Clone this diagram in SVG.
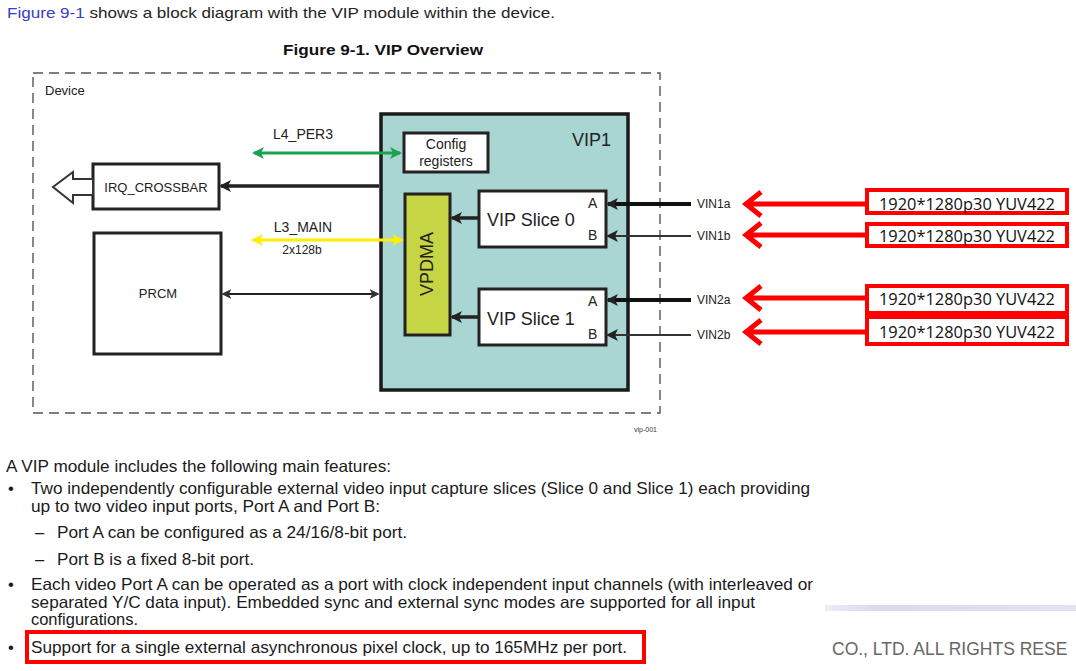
<svg xmlns="http://www.w3.org/2000/svg" width="1076" height="671" viewBox="0 0 1076 671">
<style>
  text { font-family: "Liberation Sans", Arial, sans-serif; fill: #222; }
  .box { fill: #fff; stroke: #222; stroke-width: 3; }
  .lbl13 { font-size: 13px; }
  .body { font-size: 16.5px; fill: #1a1a1a; }
  .big { font-size: 18px; }
  .port { font-size: 14px; }
  .vin { font-size: 12px; }
  .red { fill: #fff; stroke: #f00; stroke-width: 4; }
  .redtxt { font-family: "Open Sans", "Liberation Sans", sans-serif; font-size: 16.5px; fill: #111; }
  .redarrow { fill: none; stroke: #f00; stroke-width: 5; stroke-linejoin: miter; }
</style>
<defs>
  <marker id="ab" markerUnits="userSpaceOnUse" markerWidth="12" markerHeight="12" viewBox="0 0 12 12" refX="10" refY="6" orient="auto-start-reverse">
    <path d="M0,0 L12,6 L0,12 L3,6 z" fill="#222"/>
  </marker>
  <marker id="abs" markerUnits="userSpaceOnUse" markerWidth="10" markerHeight="10" viewBox="0 0 12 12" refX="10" refY="6" orient="auto-start-reverse">
    <path d="M0,0 L12,6 L0,12 L3,6 z" fill="#333"/>
  </marker>
  <marker id="ag" markerUnits="userSpaceOnUse" markerWidth="12" markerHeight="12" viewBox="0 0 12 12" refX="10" refY="6" orient="auto-start-reverse">
    <path d="M0,0 L12,6 L0,12 L3,6 z" fill="#1ba24f"/>
  </marker>
  <marker id="ay" markerUnits="userSpaceOnUse" markerWidth="12" markerHeight="12" viewBox="0 0 12 12" refX="10" refY="6" orient="auto-start-reverse">
    <path d="M0,0 L12,6 L0,12 L3,6 z" fill="#ffee00"/>
  </marker>
  <linearGradient id="bar" x1="0" x2="1" y1="0" y2="0">
    <stop offset="0" stop-color="#eceef4"/>
    <stop offset="0.2" stop-color="#d9dbe7"/>
    <stop offset="1" stop-color="#e3e4ec"/>
  </linearGradient>
</defs>

<rect width="1076" height="671" fill="#fff"/>

<g id="intro">
  <text x="7" y="18" style="font-size:15px" textLength="548" lengthAdjust="spacingAndGlyphs"><tspan fill="#3a3acf">Figure 9-1</tspan> shows a block diagram with the VIP module within the device.</text>
  <text x="283" y="55" style="font-size:15.5px;font-weight:bold;fill:#111" textLength="200" lengthAdjust="spacingAndGlyphs">Figure 9-1. VIP Overview</text>
</g>

<g id="device">
  <rect x="33" y="73" width="627" height="340" fill="none" stroke="#555" stroke-width="1.4" stroke-dasharray="10 6"/>
  <text x="45" y="95" class="lbl13">Device</text>
  <text x="634" y="432" style="font-size:7px;fill:#333">vip-001</text>
</g>

<g id="vip1">
  <rect x="381" y="114" width="247" height="276" fill="#a9d5d3" stroke="#1a1a1a" stroke-width="3.5"/>
  <text x="572" y="146" class="big">VIP1</text>
</g>

<g id="config-registers">
  <rect x="404" y="133" width="84" height="39" class="box"/>
  <text x="446" y="149" text-anchor="middle" style="font-size:14px">Config</text>
  <text x="446" y="166" text-anchor="middle" style="font-size:14px">registers</text>
</g>

<g id="vpdma">
  <rect x="405" y="194" width="45" height="141" fill="#c6d544" stroke="#222" stroke-width="3"/>
  <text x="0" y="0" transform="translate(433,264) rotate(-90)" text-anchor="middle" class="big">VPDMA</text>
</g>

<g id="vip-slice-0">
  <rect x="479" y="191" width="127" height="56" class="box"/>
  <text x="487" y="226" class="big">VIP Slice 0</text>
  <text x="588" y="208" class="port">A</text>
  <text x="588" y="240" class="port">B</text>
</g>

<g id="vip-slice-1">
  <rect x="479" y="289" width="127" height="56" class="box"/>
  <text x="487" y="325" class="big">VIP Slice 1</text>
  <text x="588" y="306" class="port">A</text>
  <text x="588" y="339" class="port">B</text>
</g>

<g id="irq-crossbar">
  <rect x="93" y="164" width="126" height="45" class="box"/>
  <text x="156" y="192" text-anchor="middle" class="lbl13">IRQ_CROSSBAR</text>
  <polygon points="53,187 73,172 73,179 93,179 93,195 73,195 73,203" fill="#fff" stroke="#333" stroke-width="2" stroke-linejoin="miter"/>
</g>

<g id="prcm">
  <rect x="94" y="233" width="127" height="121" class="box"/>
  <text x="158" y="298" text-anchor="middle" class="lbl13">PRCM</text>
</g>

<g id="connectors">
  <line x1="254" y1="153" x2="400" y2="153" stroke="#1ba24f" stroke-width="3" marker-start="url(#ag)" marker-end="url(#ag)"/>
  <line x1="379" y1="186" x2="221" y2="186" stroke="#222" stroke-width="3.5" marker-end="url(#ab)"/>
  <line x1="253" y1="240" x2="402" y2="240" stroke="#ffee00" stroke-width="3" marker-start="url(#ay)" marker-end="url(#ay)"/>
  <line x1="223" y1="294" x2="378" y2="294" stroke="#222" stroke-width="2" marker-start="url(#abs)" marker-end="url(#abs)"/>
  <line x1="478" y1="218" x2="452" y2="218" stroke="#222" stroke-width="3.5" marker-end="url(#ab)"/>
  <line x1="478" y1="317" x2="452" y2="317" stroke="#222" stroke-width="3.5" marker-end="url(#ab)"/>
  <line x1="691" y1="204" x2="608" y2="204" stroke="#111" stroke-width="4" marker-end="url(#ab)"/>
  <line x1="691" y1="236" x2="608" y2="236" stroke="#333" stroke-width="2" marker-end="url(#ab)"/>
  <line x1="691" y1="300" x2="608" y2="300" stroke="#111" stroke-width="4" marker-end="url(#ab)"/>
  <line x1="691" y1="335" x2="608" y2="335" stroke="#333" stroke-width="2" marker-end="url(#ab)"/>
  <text x="303" y="139" text-anchor="middle" style="font-size:14px">L4_PER3</text>
  <text x="303" y="232" text-anchor="middle" style="font-size:14px">L3_MAIN</text>
  <text x="302" y="254" text-anchor="middle" style="font-size:12px">2x128b</text>
</g>

<g id="vin-labels">
  <text x="697" y="208" class="vin">VIN1a</text>
  <text x="697" y="240" class="vin">VIN1b</text>
  <text x="697" y="304" class="vin">VIN2a</text>
  <text x="697" y="339" class="vin">VIN2b</text>
</g>

<g id="red-annotations">
  <path class="redarrow" d="M866,204 H747 M761,192 L746,204 L761,216"/>
  <path class="redarrow" d="M866,235 H747 M761,223 L746,235 L761,247"/>
  <path class="redarrow" d="M866,298 H747 M761,286 L746,298 L761,310"/>
  <path class="redarrow" d="M866,332 H747 M761,320 L746,332 L761,344"/>
  <rect x="867" y="190" width="200" height="23" class="red"/>
  <rect x="867" y="224" width="200" height="22" class="red"/>
  <rect x="867" y="286" width="200" height="27" class="red"/>
  <rect x="867" y="317" width="200" height="27" class="red"/>
  <text x="879" y="210" class="redtxt" textLength="176" lengthAdjust="spacingAndGlyphs">1920*1280p30 YUV422</text>
  <text x="879" y="242" class="redtxt" textLength="176" lengthAdjust="spacingAndGlyphs">1920*1280p30 YUV422</text>
  <text x="879" y="305" class="redtxt" textLength="176" lengthAdjust="spacingAndGlyphs">1920*1280p30 YUV422</text>
  <text x="879" y="338" class="redtxt" textLength="176" lengthAdjust="spacingAndGlyphs">1920*1280p30 YUV422</text>
</g>

<g id="features">
  <text x="6" y="472" class="body" textLength="385" lengthAdjust="spacingAndGlyphs">A VIP module includes the following main features:</text>
  <text x="8" y="494" class="body">•</text>
  <text x="31" y="494" class="body" textLength="779" lengthAdjust="spacingAndGlyphs">Two independently configurable external video input capture slices (Slice 0 and Slice 1) each providing</text>
  <text x="31" y="512" class="body" textLength="349" lengthAdjust="spacingAndGlyphs">up to two video input ports, Port A and Port B:</text>
  <text x="35" y="538" class="body">–</text>
  <text x="57" y="538" class="body" textLength="350" lengthAdjust="spacingAndGlyphs">Port A can be configured as a 24/16/8-bit port.</text>
  <text x="35" y="565" class="body">–</text>
  <text x="57" y="565" class="body" textLength="197" lengthAdjust="spacingAndGlyphs">Port B is a fixed 8-bit port.</text>
  <text x="8" y="590" class="body">•</text>
  <text x="31" y="590" class="body" textLength="782" lengthAdjust="spacingAndGlyphs">Each video Port A can be operated as a port with clock independent input channels (with interleaved or</text>
  <text x="31" y="608" class="body" textLength="724" lengthAdjust="spacingAndGlyphs">separated Y/C data input). Embedded sync and external sync modes are supported for all input</text>
  <text x="31" y="625" class="body" textLength="107" lengthAdjust="spacingAndGlyphs">configurations.</text>
  <text x="8" y="653" class="body">•</text>
  <text x="31" y="653" class="body" textLength="596" lengthAdjust="spacingAndGlyphs">Support for a single external asynchronous pixel clock, up to 165MHz per port.</text>
  <rect x="27" y="632" width="617" height="30" fill="none" stroke="#f00" stroke-width="4"/>
</g>

<g id="footer">
  <rect x="825" y="605" width="251" height="6" fill="url(#bar)"/>
  <text x="832" y="655" style="font-size:17.5px;fill:#666">CO., LTD. ALL RIGHTS RESE</text>
</g>
</svg>
